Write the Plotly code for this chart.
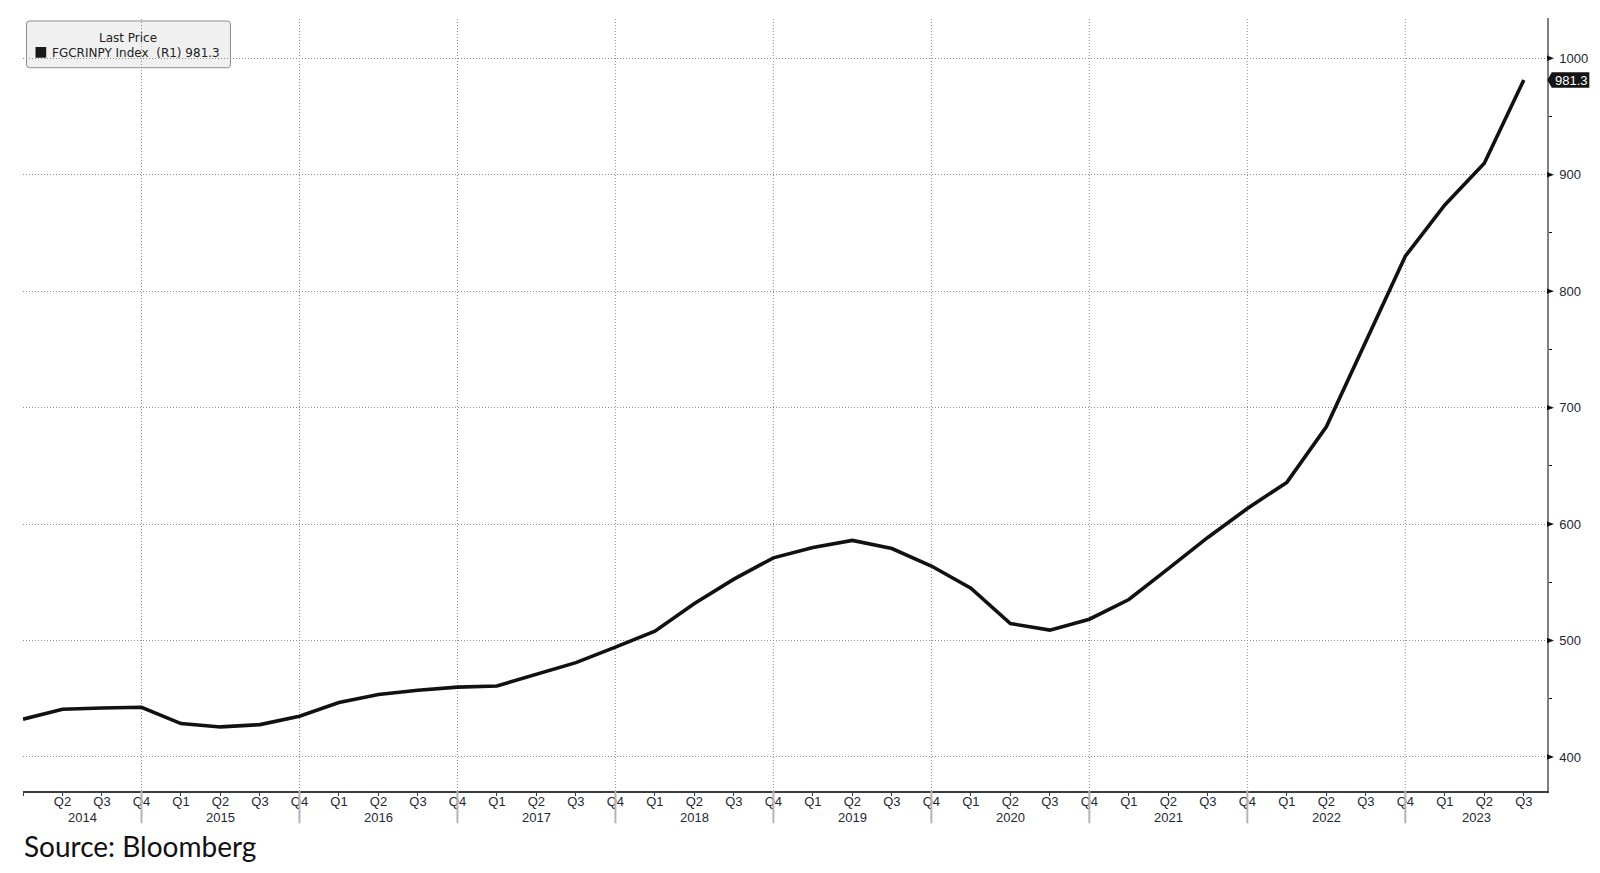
import plotly.graph_objects as go

# ---------------- data ----------------
years = [2014, 2015, 2016, 2017, 2018, 2019, 2020, 2021, 2022, 2023]
quarter_labels = (["Q1", "Q2", "Q3", "Q4"] * 10)[:39]
values = [
    432.4, 441.0, 442.1, 442.7,
    428.7, 425.8, 427.8, 435.0,
    446.7, 453.6, 457.3, 460.0,
    461.0, 471.2, 481.0, 494.3,
    508.0, 531.8, 552.7, 571.0,
    579.8, 586.0, 579.0, 564.0,
    545.0, 514.6, 508.9, 518.3,
    535.2, 561.8, 588.5, 613.4,
    635.8, 683.6, 756.0, 830.0,
    874.0, 909.8, 981.3,
]
y_ticks = [400, 500, 600, 700, 800, 900, 1000]
last_value = values[-1]
series_name = "FGCRINPY Index"
legend_title = "Last Price"
source_text = "Source: Bloomberg"

# ---------------- layout geometry (page pixel coords, page body margin 8px) ----------------
OFF = 8
W, H = 1600 - OFF, 873 - OFF
PL, PR, PT, PB = 22.5, 1546.7, 18.0, 790.7      # plot area in page pixels
ML, MT = PL - OFF, PT - OFF
MR = W - (PR - OFF)
MB = H - (PB - OFF)
PW, PH = PR - PL, PB - PT
X_MAX = PW / 39.5
Y_TOP, Y_BOT = 1034.6, 1034.6 - PH / 1.164

AX_FONT = dict(family="Liberation Sans", size=13, color="#1f2733")

def px_x(px):
    return (px - PL) / PW

def px_y(py):
    return (PB - py) / PH

x = list(range(len(values)))
fig = go.Figure()
fig.add_trace(go.Scatter(
    x=x, y=values, mode="lines",
    line=dict(color="#111111", width=3.6),
    hoverinfo="skip", showlegend=False,
))

shapes = []
annotations = []

# legend box (rounded)
bx0, bx1, by0, by1, r = 26, 230, 21, 67.7, 3
def P(px, py):
    return f"{px_x(px):.6f},{px_y(py):.6f}"
path = (f"M {P(bx0 + r, by0)} L {P(bx1 - r, by0)} Q {P(bx1, by0)} {P(bx1, by0 + r)} "
        f"L {P(bx1, by1 - r)} Q {P(bx1, by1)} {P(bx1 - r, by1)} "
        f"L {P(bx0 + r, by1)} Q {P(bx0, by1)} {P(bx0, by1 - r)} "
        f"L {P(bx0, by0 + r)} Q {P(bx0, by0)} {P(bx0 + r, by0)} Z")
shapes.append(dict(type="path", xref="paper", yref="paper", path=path,
                   fillcolor="#f0f0f0", line=dict(color="#8c8c8c", width=1), layer="below"))
shapes.append(dict(type="rect", xref="paper", yref="paper",
                   x0=px_x(35), x1=px_x(45.7), y0=px_y(47), y1=px_y(57.7),
                   fillcolor="#1a1a1a", line=dict(width=0), layer="below"))

# vertical dotted gridlines at Q4 and separators below axis
q4_idx = [i for i, q in enumerate(quarter_labels) if q == "Q4"]
for i in q4_idx:
    shapes.append(dict(type="line", xref="x", yref="paper", x0=i, x1=i, y0=0, y1=1,
                       line=dict(color="#8f8f8f", width=1, dash="1px,2px"), layer="below"))
    shapes.append(dict(type="line", xref="x", yref="paper", x0=i, x1=i, y0=0,
                       y1=-(823 - PB) / PH,
                       line=dict(color="#b4b4b4", width=2), layer="above"))

# year labels centered within segments
bounds = [0] + q4_idx + [X_MAX]
for k, yr in enumerate(years):
    mid = (bounds[k] + bounds[k + 1]) / 2
    annotations.append(dict(x=mid, xref="x", y=px_y(816.7), yref="paper",
                            text=str(yr), showarrow=False, font=AX_FONT,
                            xanchor="center", yanchor="middle"))

# triangle markers on right axis
tri_w = 7 / PW
for v in y_ticks:
    shapes.append(dict(type="path", xref="paper", yref="y",
                       path=f"M 1,{v + 2.3} L {1 + tri_w},{v} L 1,{v - 2.3} Z",
                       fillcolor="#111111", line=dict(width=0), layer="above"))

# last price tag
hh = 7.8 / 1.164
tx0, tx1, tx2 = px_x(1547), px_x(1551.5), px_x(1589)
shapes.append(dict(type="path", xref="paper", yref="y",
                   path=(f"M {tx0},{last_value} L {tx1},{last_value + hh} L {tx2},{last_value + hh} "
                         f"L {tx2},{last_value - hh} L {tx1},{last_value - hh} Z"),
                   fillcolor="#141414", line=dict(width=0), layer="above"))
annotations.append(dict(x=px_x(1571), xref="paper", y=last_value, yref="y",
                        text=f"{last_value:.1f}", showarrow=False,
                        font=dict(family="Liberation Sans", size=13, color="white"),
                        xanchor="center", yanchor="middle"))

# legend texts
annotations.append(dict(x=px_x(128), xref="paper", y=px_y(37.5), yref="paper",
                        text=legend_title, showarrow=False,
                        font=dict(family="DejaVu Sans", size=12, color="#222222"),
                        xanchor="center", yanchor="middle"))
annotations.append(dict(x=px_x(49.5), xref="paper", y=px_y(52.5), yref="paper",
                        text=f"{series_name}  (R1) {last_value:.1f}", showarrow=False,
                        font=dict(family="DejaVu Sans", size=12, color="#222222"),
                        xanchor="left", yanchor="middle"))

# source
annotations.append(dict(x=px_x(21), xref="paper", y=px_y(846), yref="paper",
                        text=source_text, showarrow=False,
                        font=dict(family="Lato", size=28, color="#111111"),
                        xanchor="left", yanchor="middle"))

tick_text = [""] + quarter_labels[1:]

fig.update_layout(
    width=W, height=H,
    margin=dict(l=ML, r=MR, t=MT, b=MB, pad=0),
    paper_bgcolor="white", plot_bgcolor="white",
    showlegend=False,
    shapes=shapes, annotations=annotations,
    xaxis=dict(
        range=[0, X_MAX], tickmode="array", tickvals=x, ticktext=tick_text,
        showgrid=False, zeroline=False,
        showline=True, linecolor="#3c3c3c", linewidth=1.5,
        ticks="outside", ticklen=3, tickcolor="#3c3c3c", tickwidth=1,
        ticklabelstandoff=-5,
        tickfont=AX_FONT,
        fixedrange=True,
    ),
    yaxis=dict(
        range=[Y_BOT, Y_TOP], side="right", tickmode="array", tickvals=y_ticks,
        ticktext=[str(v) for v in y_ticks],
        showgrid=True, gridcolor="#8f8f8f", gridwidth=1, griddash="1px,2px",
        zeroline=False,
        showline=True, linecolor="#808080", linewidth=1.5,
        ticks="outside", ticklen=8, tickcolor="rgba(0,0,0,0)",
        minor=dict(ticks="outside", ticklen=3, tickcolor="#111111", dtick=50,
                   tick0=0, showgrid=False),
        tickfont=AX_FONT,
        fixedrange=True,
    ),
)

fig.write_html("out.html")
